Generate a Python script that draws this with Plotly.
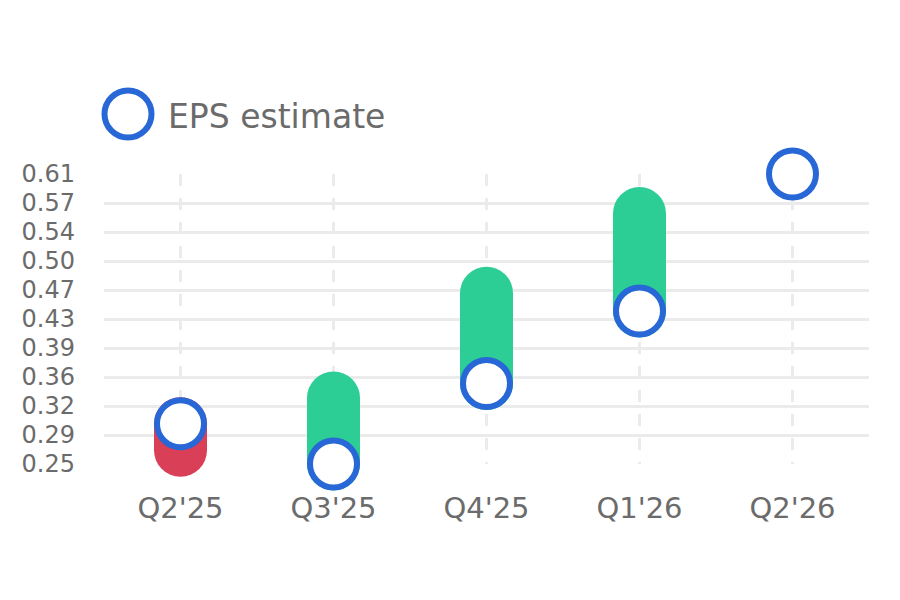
import plotly.graph_objects as go

quarters = ["Q2'25", "Q3'25", "Q4'25", "Q1'26", "Q2'26"]
eps_estimate = [0.30, 0.25, 0.35, 0.44, 0.61]
eps_actual = [0.267, 0.332, 0.462, 0.561, None]
y_tickvals = [0.25, 0.286, 0.322, 0.358, 0.394, 0.43, 0.466, 0.502, 0.538, 0.574, 0.61]
y_ticktext = ["0.25", "0.29", "0.32", "0.36", "0.39", "0.43", "0.47", "0.50", "0.54", "0.57", "0.61"]

BLUE = "#2767d6"
GREEN = "#2dce96"
RED = "#d93f57"
GRID = "#ebebeb"
TEXT = "#6b6b6b"
PILL = 53

fig = go.Figure()

for q, est, act in zip(quarters, eps_estimate, eps_actual):
    if act is None:
        continue
    color = GREEN if act >= est else RED
    fig.add_trace(go.Scatter(
        x=[q, q], y=[est, act], mode="lines+markers",
        line=dict(color=color, width=PILL),
        marker=dict(color=color, size=PILL, line=dict(width=0)),
        cliponaxis=False, showlegend=False, hoverinfo="skip",
    ))

fig.add_trace(go.Scatter(
    x=quarters, y=eps_estimate, mode="markers", name="EPS estimate",
    marker=dict(symbol="circle", size=47, color="white", line=dict(color=BLUE, width=6)),
    cliponaxis=False, showlegend=False,
))

L, R, T, B = 104, 31, 174, 136
W, H = 900 - L - R, 600 - T - B

def px_x(p):
    return (p - L) / W

def px_y(p):
    return (600 - B - p) / H

fig.add_shape(
    type="circle", xref="paper", yref="paper",
    xsizemode="pixel", ysizemode="pixel",
    xanchor=px_x(128), yanchor=px_y(114),
    x0=-23.5, x1=23.5, y0=-23.5, y1=23.5,
    line=dict(color=BLUE, width=6), fillcolor="white",
)
fig.add_annotation(
    text="EPS estimate", xref="paper", yref="paper",
    x=px_x(166), y=px_y(117), xanchor="left", yanchor="middle",
    showarrow=False, font=dict(family="DejaVu Sans", size=33, color=TEXT),
)

fig.update_layout(
    width=900, height=600,
    margin=dict(l=L, r=R, t=T, b=B, pad=0),
    paper_bgcolor="white", plot_bgcolor="white",
    font=dict(family="DejaVu Sans", color=TEXT),
    showlegend=False,
)
fig.update_xaxes(
    type="category", range=[-0.5, 4.5],
    showgrid=True, gridcolor=GRID, gridwidth=3, griddash="12px,12px",
    showline=False, zeroline=False, ticks="",
    tickfont=dict(size=29, color=TEXT), ticklabelstandoff=24,
)
fig.update_yaxes(
    range=[0.25, 0.61], tickvals=y_tickvals, ticktext=y_ticktext,
    showgrid=True, gridcolor=GRID, gridwidth=3,
    showline=False, zeroline=False, ticks="",
    tickfont=dict(size=24, color=TEXT), ticklabelstandoff=28,
)

fig.write_html("out.html")
